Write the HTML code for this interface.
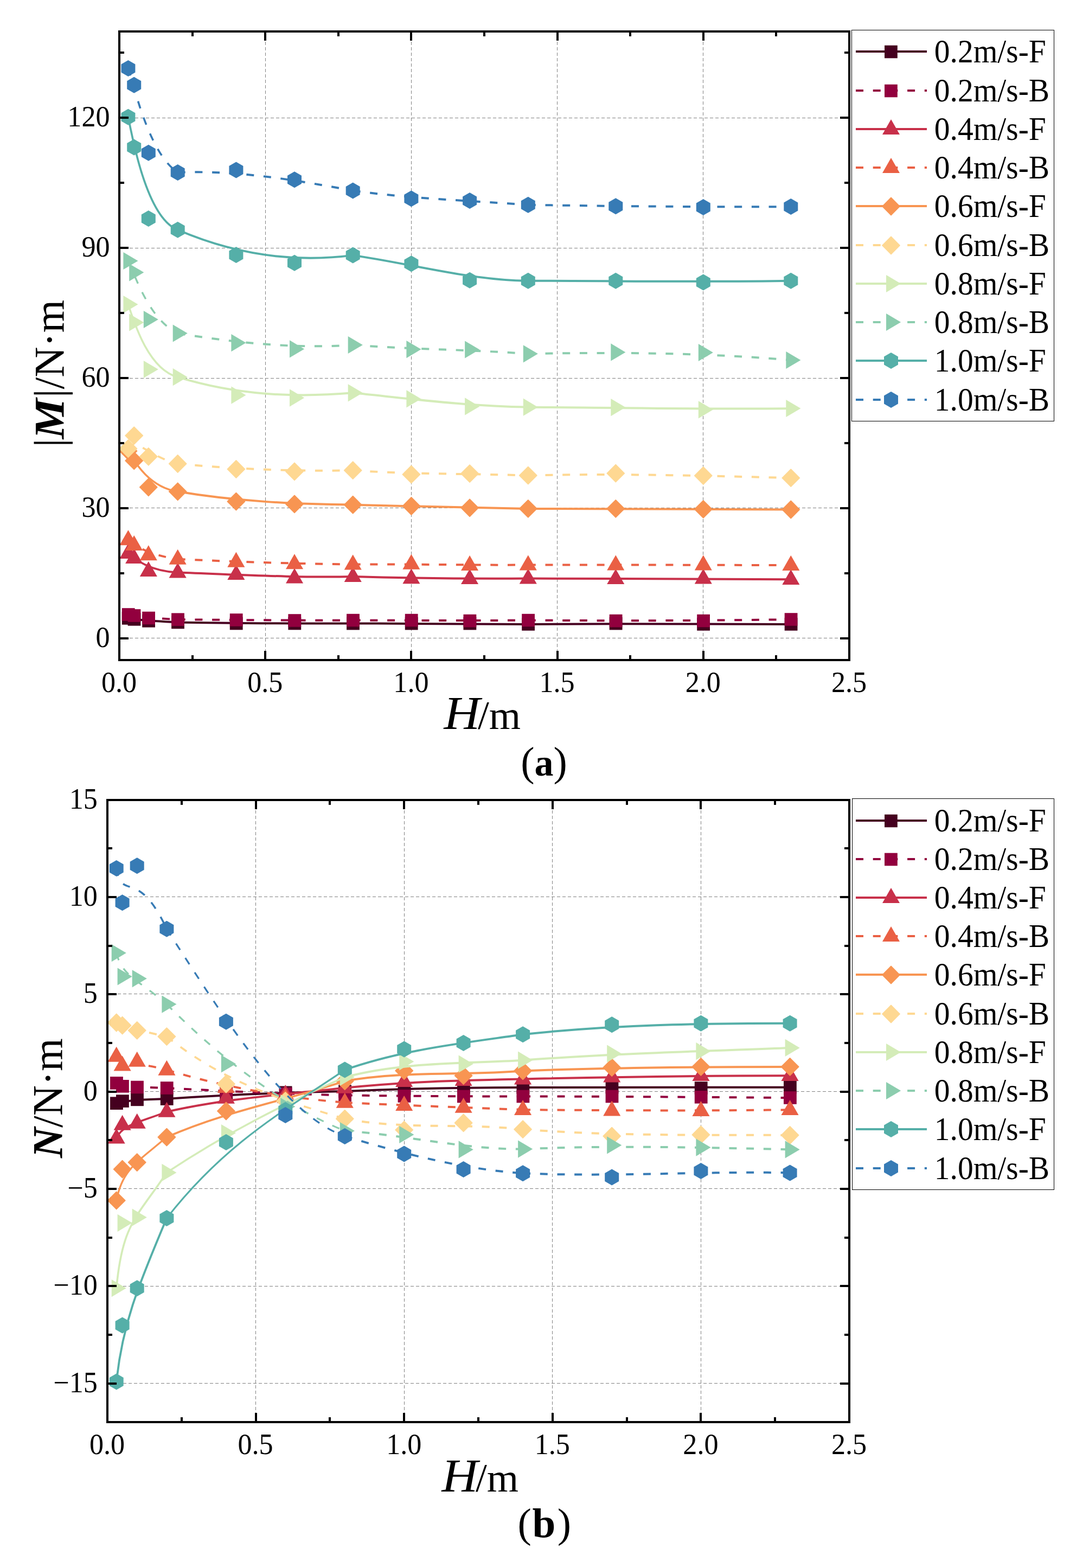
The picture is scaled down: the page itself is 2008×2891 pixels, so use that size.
<!DOCTYPE html>
<html lang="en">
<head>
<meta charset="utf-8">
<title>Figure: |M| and N versus H</title>
<style>
html,body{margin:0;padding:0;background:#fff;}
body{width:2008px;height:2891px;overflow:hidden;}
svg{display:block;}
svg text{font-family:"Liberation Serif", "DejaVu Serif", serif;}
</style>
</head>
<body>
<svg width="2008" height="2891" viewBox="0 0 2008 2891" font-family='"Liberation Serif", "DejaVu Serif", serif'>
<rect width="2008" height="2891" fill="#fff"/>
<g id="chart-a">
<g stroke="#808080" stroke-width="1" stroke-dasharray="6 4" fill="none" shape-rendering="crispEdges"><line x1="489.5" y1="57" x2="489.5" y2="1217"/><line x1="758.5" y1="57" x2="758.5" y2="1217"/><line x1="1027.5" y1="57" x2="1027.5" y2="1217"/><line x1="1296.5" y1="57" x2="1296.5" y2="1217"/><line x1="219" y1="1176.5" x2="1566" y2="1176.5"/><line x1="219" y1="936.5" x2="1566" y2="936.5"/><line x1="219" y1="697.5" x2="1566" y2="697.5"/><line x1="219" y1="457.5" x2="1566" y2="457.5"/><line x1="219" y1="217.5" x2="1566" y2="217.5"/></g>
<clipPath id="clip-chart-a"><rect x="220" y="58" width="1346" height="1159"/></clipPath>
<g clip-path="url(#clip-chart-a)">
<g fill="none" stroke="#45001F"><path d="M236.4,1139.9 C247.2,1141.9 273.8,1144.9 327.7,1147.5" stroke-width="3.98"/><path d="M327.7,1147.5 C435.4,1149.5 543,1149.5 650.7,1149.6" stroke-width="4"/><path d="M650.7,1149.6 C758.4,1149.6 866.1,1149.6 973.8,1150.9" stroke-width="4"/><path d="M973.8,1150.9 C1135.3,1149.6 1296.8,1150.9 1458.3,1150.9" stroke-width="4"/></g>
<g><rect x="224.8" y="1128.1" width="23.8" height="23.6" fill="#45001F"/><rect x="235.6" y="1130.1" width="23.8" height="23.6" fill="#45001F"/><rect x="262.2" y="1133.1" width="23.8" height="23.6" fill="#45001F"/><rect x="316.1" y="1135.7" width="23.8" height="23.6" fill="#45001F"/><rect x="423.8" y="1137.7" width="23.8" height="23.6" fill="#45001F"/><rect x="531.4" y="1137.7" width="23.8" height="23.6" fill="#45001F"/><rect x="639.1" y="1137.8" width="23.8" height="23.6" fill="#45001F"/><rect x="746.8" y="1137.8" width="23.8" height="23.6" fill="#45001F"/><rect x="854.5" y="1137.8" width="23.8" height="23.6" fill="#45001F"/><rect x="962.2" y="1139.1" width="23.8" height="23.6" fill="#45001F"/><rect x="1123.7" y="1137.8" width="23.8" height="23.6" fill="#45001F"/><rect x="1285.2" y="1139.1" width="23.8" height="23.6" fill="#45001F"/><rect x="1446.7" y="1139.1" width="23.8" height="23.6" fill="#45001F"/></g>
<g fill="none" stroke="#92003E" stroke-dasharray="14 17.7"><path d="M236.4,1133 C247.2,1135 273.8,1139.5 327.7,1142.2" stroke-width="3.98"/><path d="M327.7,1142.2 C435.4,1143 543,1144 650.7,1143.6" stroke-width="4"/><path d="M650.7,1143.6 C758.4,1143.6 866.1,1144.6 973.8,1143.6" stroke-width="4"/><path d="M973.8,1143.6 C1135.3,1144.6 1296.8,1144.6 1458.3,1142" stroke-width="4"/></g>
<g><rect x="224.8" y="1121.2" width="23.8" height="23.6" fill="#92003E"/><rect x="235.6" y="1123.2" width="23.8" height="23.6" fill="#92003E"/><rect x="262.2" y="1127.7" width="23.8" height="23.6" fill="#92003E"/><rect x="316.1" y="1130.4" width="23.8" height="23.6" fill="#92003E"/><rect x="423.8" y="1131.2" width="23.8" height="23.6" fill="#92003E"/><rect x="531.4" y="1132.2" width="23.8" height="23.6" fill="#92003E"/><rect x="639.1" y="1131.8" width="23.8" height="23.6" fill="#92003E"/><rect x="746.8" y="1131.8" width="23.8" height="23.6" fill="#92003E"/><rect x="854.5" y="1132.8" width="23.8" height="23.6" fill="#92003E"/><rect x="962.2" y="1131.8" width="23.8" height="23.6" fill="#92003E"/><rect x="1123.7" y="1132.8" width="23.8" height="23.6" fill="#92003E"/><rect x="1285.2" y="1132.8" width="23.8" height="23.6" fill="#92003E"/><rect x="1446.7" y="1130.2" width="23.8" height="23.6" fill="#92003E"/></g>
<g fill="none" stroke="#C8304A"><path d="M236.4,1020.2 C247.2,1029.2 273.8,1053.1 327.7,1055.5" stroke-width="3.65"/><path d="M327.7,1055.5 C435.4,1059.1 543,1065.5 650.7,1063" stroke-width="4"/><path d="M650.7,1063 C758.4,1066.3 866.1,1067.2 973.8,1066.6" stroke-width="4"/><path d="M973.8,1066.6 C1135.3,1067.2 1296.8,1066.6 1458.3,1068.2" stroke-width="4"/></g>
<g><polygon points="236.4,1002.1 252.5,1030.1 220.4,1030.1" fill="#C8304A"/><polygon points="247.2,1011.1 263.2,1039.1 231.1,1039.1" fill="#C8304A"/><polygon points="273.8,1035 289.9,1063 257.8,1063" fill="#C8304A"/><polygon points="327.7,1037.4 343.7,1065.4 311.6,1065.4" fill="#C8304A"/><polygon points="435.4,1041 451.4,1069 419.3,1069" fill="#C8304A"/><polygon points="543,1047.4 559.1,1075.4 527,1075.4" fill="#C8304A"/><polygon points="650.7,1044.9 666.8,1072.9 634.7,1072.9" fill="#C8304A"/><polygon points="758.4,1048.2 774.4,1076.2 742.4,1076.2" fill="#C8304A"/><polygon points="866.1,1049.1 882.1,1077.1 850,1077.1" fill="#C8304A"/><polygon points="973.8,1048.5 989.8,1076.5 957.7,1076.5" fill="#C8304A"/><polygon points="1135.3,1049.1 1151.3,1077.1 1119.2,1077.1" fill="#C8304A"/><polygon points="1296.8,1048.5 1312.8,1076.5 1280.8,1076.5" fill="#C8304A"/><polygon points="1458.3,1050.1 1474.4,1078.1 1442.3,1078.1" fill="#C8304A"/></g>
<g fill="none" stroke="#EA6044" stroke-dasharray="14 17.7"><path d="M236.4,995.3 C247.2,1005.2 273.8,1023.4 327.7,1030.8" stroke-width="3.68"/><path d="M327.7,1030.8 C435.4,1035.8 543,1039.4 650.7,1040.5" stroke-width="4"/><path d="M650.7,1040.5 C758.4,1039.9 866.1,1042.2 973.8,1041.5" stroke-width="4"/><path d="M973.8,1041.5 C1135.3,1041.5 1296.8,1041.5 1458.3,1042.2" stroke-width="4"/></g>
<g><polygon points="236.4,977.2 252.5,1005.2 220.4,1005.2" fill="#EA6044"/><polygon points="247.2,987.1 263.2,1015.1 231.1,1015.1" fill="#EA6044"/><polygon points="273.8,1005.3 289.9,1033.3 257.8,1033.3" fill="#EA6044"/><polygon points="327.7,1012.7 343.7,1040.7 311.6,1040.7" fill="#EA6044"/><polygon points="435.4,1017.7 451.4,1045.7 419.3,1045.7" fill="#EA6044"/><polygon points="543,1021.3 559.1,1049.3 527,1049.3" fill="#EA6044"/><polygon points="650.7,1022.4 666.8,1050.4 634.7,1050.4" fill="#EA6044"/><polygon points="758.4,1021.8 774.4,1049.8 742.4,1049.8" fill="#EA6044"/><polygon points="866.1,1024.1 882.1,1052.1 850,1052.1" fill="#EA6044"/><polygon points="973.8,1023.4 989.8,1051.4 957.7,1051.4" fill="#EA6044"/><polygon points="1135.3,1023.4 1151.3,1051.4 1119.2,1051.4" fill="#EA6044"/><polygon points="1296.8,1023.4 1312.8,1051.4 1280.8,1051.4" fill="#EA6044"/><polygon points="1458.3,1024.1 1474.4,1052.1 1442.3,1052.1" fill="#EA6044"/></g>
<g fill="none" stroke="#F89552"><path d="M236.4,831.6 C247.2,849.4 273.8,898.3 327.7,906.3" stroke-width="3.36"/><path d="M327.7,906.3 C435.4,924.6 543,929.4 650.7,930.7" stroke-width="3.98"/><path d="M650.7,930.7 C758.4,933 866.1,936.3 973.8,937.9" stroke-width="4"/><path d="M973.8,937.9 C1135.3,937.9 1296.8,938.9 1458.3,939.5" stroke-width="4"/></g>
<g><polygon points="236.4,815.5 252.5,831.6 236.4,847.7 220.3,831.6" fill="#F89552" stroke="#F89552" stroke-width="1.6" stroke-linejoin="round"/><polygon points="247.2,833.3 263.3,849.4 247.2,865.5 231.1,849.4" fill="#F89552" stroke="#F89552" stroke-width="1.6" stroke-linejoin="round"/><polygon points="273.8,882.2 289.9,898.3 273.8,914.4 257.7,898.3" fill="#F89552" stroke="#F89552" stroke-width="1.6" stroke-linejoin="round"/><polygon points="327.7,890.2 343.8,906.3 327.7,922.4 311.6,906.3" fill="#F89552" stroke="#F89552" stroke-width="1.6" stroke-linejoin="round"/><polygon points="435.4,908.5 451.5,924.6 435.4,940.7 419.3,924.6" fill="#F89552" stroke="#F89552" stroke-width="1.6" stroke-linejoin="round"/><polygon points="543,913.3 559.1,929.4 543,945.5 526.9,929.4" fill="#F89552" stroke="#F89552" stroke-width="1.6" stroke-linejoin="round"/><polygon points="650.7,914.6 666.8,930.7 650.7,946.8 634.6,930.7" fill="#F89552" stroke="#F89552" stroke-width="1.6" stroke-linejoin="round"/><polygon points="758.4,916.9 774.5,933 758.4,949.1 742.3,933" fill="#F89552" stroke="#F89552" stroke-width="1.6" stroke-linejoin="round"/><polygon points="866.1,920.2 882.2,936.3 866.1,952.4 850,936.3" fill="#F89552" stroke="#F89552" stroke-width="1.6" stroke-linejoin="round"/><polygon points="973.8,921.8 989.9,937.9 973.8,954 957.7,937.9" fill="#F89552" stroke="#F89552" stroke-width="1.6" stroke-linejoin="round"/><polygon points="1135.3,921.8 1151.4,937.9 1135.3,954 1119.2,937.9" fill="#F89552" stroke="#F89552" stroke-width="1.6" stroke-linejoin="round"/><polygon points="1296.8,922.8 1312.9,938.9 1296.8,955 1280.7,938.9" fill="#F89552" stroke="#F89552" stroke-width="1.6" stroke-linejoin="round"/><polygon points="1458.3,923.4 1474.4,939.5 1458.3,955.6 1442.2,939.5" fill="#F89552" stroke="#F89552" stroke-width="1.6" stroke-linejoin="round"/></g>
<g fill="none" stroke="#FED892" stroke-dasharray="14 17.7"><path d="M236.4,827.2 C247.2,803.1 273.8,841.9 327.7,855" stroke-width="3.62"/><path d="M327.7,855 C435.4,865 543,869.4 650.7,867.2" stroke-width="4"/><path d="M650.7,867.2 C758.4,874.7 866.1,873.1 973.8,876.6" stroke-width="4"/><path d="M973.8,876.6 C1135.3,872.7 1296.8,877 1458.3,881.2" stroke-width="4"/></g>
<g><polygon points="236.4,811.1 252.5,827.2 236.4,843.3 220.3,827.2" fill="#FED892" stroke="#FED892" stroke-width="1.6" stroke-linejoin="round"/><polygon points="247.2,787 263.3,803.1 247.2,819.2 231.1,803.1" fill="#FED892" stroke="#FED892" stroke-width="1.6" stroke-linejoin="round"/><polygon points="273.8,825.8 289.9,841.9 273.8,858 257.7,841.9" fill="#FED892" stroke="#FED892" stroke-width="1.6" stroke-linejoin="round"/><polygon points="327.7,838.9 343.8,855 327.7,871.1 311.6,855" fill="#FED892" stroke="#FED892" stroke-width="1.6" stroke-linejoin="round"/><polygon points="435.4,848.9 451.5,865 435.4,881.1 419.3,865" fill="#FED892" stroke="#FED892" stroke-width="1.6" stroke-linejoin="round"/><polygon points="543,853.3 559.1,869.4 543,885.5 526.9,869.4" fill="#FED892" stroke="#FED892" stroke-width="1.6" stroke-linejoin="round"/><polygon points="650.7,851.1 666.8,867.2 650.7,883.3 634.6,867.2" fill="#FED892" stroke="#FED892" stroke-width="1.6" stroke-linejoin="round"/><polygon points="758.4,858.6 774.5,874.7 758.4,890.8 742.3,874.7" fill="#FED892" stroke="#FED892" stroke-width="1.6" stroke-linejoin="round"/><polygon points="866.1,857 882.2,873.1 866.1,889.2 850,873.1" fill="#FED892" stroke="#FED892" stroke-width="1.6" stroke-linejoin="round"/><polygon points="973.8,860.5 989.9,876.6 973.8,892.7 957.7,876.6" fill="#FED892" stroke="#FED892" stroke-width="1.6" stroke-linejoin="round"/><polygon points="1135.3,856.6 1151.4,872.7 1135.3,888.8 1119.2,872.7" fill="#FED892" stroke="#FED892" stroke-width="1.6" stroke-linejoin="round"/><polygon points="1296.8,860.9 1312.9,877 1296.8,893.1 1280.7,877" fill="#FED892" stroke="#FED892" stroke-width="1.6" stroke-linejoin="round"/><polygon points="1458.3,865.1 1474.4,881.2 1458.3,897.3 1442.2,881.2" fill="#FED892" stroke="#FED892" stroke-width="1.6" stroke-linejoin="round"/></g>
<g fill="none" stroke="#D4ECB8"><path d="M236.4,561.2 C247.2,594.5 273.8,681 327.7,695.2" stroke-width="3.5"/><path d="M327.7,695.2 C435.4,728.6 543,733.6 650.7,724.3" stroke-width="3.96"/><path d="M650.7,724.3 C758.4,735.4 866.1,749.4 973.8,750.7" stroke-width="3.99"/><path d="M973.8,750.7 C1135.3,751.1 1296.8,755.3 1458.3,753" stroke-width="4"/></g>
<g><polygon points="254.5,561.2 227.4,577.3 227.4,545.1" fill="#D4ECB8"/><polygon points="265.3,594.5 238.2,610.6 238.2,578.4" fill="#D4ECB8"/><polygon points="291.9,681 264.8,697.1 264.8,664.9" fill="#D4ECB8"/><polygon points="345.8,695.2 318.7,711.3 318.7,679.1" fill="#D4ECB8"/><polygon points="453.5,728.6 426.4,744.7 426.4,712.5" fill="#D4ECB8"/><polygon points="561.1,733.6 534,749.7 534,717.5" fill="#D4ECB8"/><polygon points="668.8,724.3 641.7,740.4 641.7,708.2" fill="#D4ECB8"/><polygon points="776.5,735.4 749.4,751.5 749.4,719.3" fill="#D4ECB8"/><polygon points="884.2,749.4 857.1,765.5 857.1,733.3" fill="#D4ECB8"/><polygon points="991.9,750.7 964.8,766.8 964.8,734.6" fill="#D4ECB8"/><polygon points="1153.4,751.1 1126.3,767.2 1126.3,735" fill="#D4ECB8"/><polygon points="1314.9,755.3 1287.8,771.4 1287.8,739.2" fill="#D4ECB8"/><polygon points="1476.4,753 1449.3,769.1 1449.3,736.9" fill="#D4ECB8"/></g>
<g fill="none" stroke="#8CCDAE" stroke-dasharray="14 17.7"><path d="M236.4,481 C247.2,502.3 273.8,589 327.7,614.5" stroke-width="3.41"/><path d="M327.7,614.5 C435.4,632.1 543,643.4 650.7,636" stroke-width="3.98"/><path d="M650.7,636 C758.4,644.1 866.1,644.5 973.8,652.3" stroke-width="3.99"/><path d="M973.8,652.3 C1135.3,649.4 1296.8,650 1458.3,664" stroke-width="4"/></g>
<g><polygon points="254.5,481 227.4,497.1 227.4,464.9" fill="#8CCDAE"/><polygon points="265.3,502.3 238.2,518.4 238.2,486.2" fill="#8CCDAE"/><polygon points="291.9,589 264.8,605.1 264.8,572.9" fill="#8CCDAE"/><polygon points="345.8,614.5 318.7,630.6 318.7,598.4" fill="#8CCDAE"/><polygon points="453.5,632.1 426.4,648.2 426.4,616" fill="#8CCDAE"/><polygon points="561.1,643.4 534,659.5 534,627.3" fill="#8CCDAE"/><polygon points="668.8,636 641.7,652.1 641.7,619.9" fill="#8CCDAE"/><polygon points="776.5,644.1 749.4,660.2 749.4,628" fill="#8CCDAE"/><polygon points="884.2,644.5 857.1,660.6 857.1,628.4" fill="#8CCDAE"/><polygon points="991.9,652.3 964.8,668.4 964.8,636.2" fill="#8CCDAE"/><polygon points="1153.4,649.4 1126.3,665.5 1126.3,633.3" fill="#8CCDAE"/><polygon points="1314.9,650 1287.8,666.1 1287.8,633.9" fill="#8CCDAE"/><polygon points="1476.4,664 1449.3,680.1 1449.3,647.9" fill="#8CCDAE"/></g>
<g fill="none" stroke="#55AFA8"><path d="M236.4,215.7 C247.2,271.6 273.8,403 327.7,423.8" stroke-width="3.67"/><path d="M327.7,423.8 C435.4,470.1 543,484.7 650.7,470.6" stroke-width="3.91"/><path d="M650.7,470.6 C758.4,486.2 866.1,516.8 973.8,517.8" stroke-width="3.95"/><path d="M973.8,517.8 C1135.3,517.8 1296.8,520.4 1458.3,517.8" stroke-width="4"/></g>
<g><polygon points="236.4,200.7 249.4,208.2 249.4,223.2 236.4,230.7 223.4,223.2 223.4,208.2" fill="#55AFA8"/><polygon points="247.2,256.6 260.2,264.1 260.2,279.1 247.2,286.6 234.2,279.1 234.2,264.1" fill="#55AFA8"/><polygon points="273.8,388 286.8,395.5 286.8,410.5 273.8,418 260.8,410.5 260.8,395.5" fill="#55AFA8"/><polygon points="327.7,408.8 340.7,416.3 340.7,431.3 327.7,438.8 314.7,431.3 314.7,416.3" fill="#55AFA8"/><polygon points="435.4,455.1 448.4,462.6 448.4,477.6 435.4,485.1 422.4,477.6 422.4,462.6" fill="#55AFA8"/><polygon points="543,469.7 556,477.2 556,492.2 543,499.7 530,492.2 530,477.2" fill="#55AFA8"/><polygon points="650.7,455.6 663.7,463.1 663.7,478.1 650.7,485.6 637.7,478.1 637.7,463.1" fill="#55AFA8"/><polygon points="758.4,471.2 771.4,478.7 771.4,493.7 758.4,501.2 745.4,493.7 745.4,478.7" fill="#55AFA8"/><polygon points="866.1,501.8 879.1,509.3 879.1,524.3 866.1,531.8 853.1,524.3 853.1,509.3" fill="#55AFA8"/><polygon points="973.8,502.8 986.8,510.3 986.8,525.3 973.8,532.8 960.8,525.3 960.8,510.3" fill="#55AFA8"/><polygon points="1135.3,502.8 1148.3,510.3 1148.3,525.3 1135.3,532.8 1122.3,525.3 1122.3,510.3" fill="#55AFA8"/><polygon points="1296.8,505.4 1309.8,512.9 1309.8,527.9 1296.8,535.4 1283.8,527.9 1283.8,512.9" fill="#55AFA8"/><polygon points="1458.3,502.8 1471.3,510.3 1471.3,525.3 1458.3,532.8 1445.3,525.3 1445.3,510.3" fill="#55AFA8"/></g>
<g fill="none" stroke="#377BB5" stroke-dasharray="14 17.7"><path d="M236.4,126 C247.2,156.8 273.8,281.7 327.7,318" stroke-width="3.59"/><path d="M327.7,318 C435.4,313.5 543,331.3 650.7,351.6" stroke-width="3.97"/><path d="M650.7,351.6 C758.4,366.3 866.1,369.9 973.8,377.7" stroke-width="3.99"/><path d="M973.8,377.7 C1135.3,380.3 1296.8,381.9 1458.3,381" stroke-width="4"/></g>
<g><polygon points="236.4,111 249.4,118.5 249.4,133.5 236.4,141 223.4,133.5 223.4,118.5" fill="#377BB5"/><polygon points="247.2,141.8 260.2,149.3 260.2,164.3 247.2,171.8 234.2,164.3 234.2,149.3" fill="#377BB5"/><polygon points="273.8,266.7 286.8,274.2 286.8,289.2 273.8,296.7 260.8,289.2 260.8,274.2" fill="#377BB5"/><polygon points="327.7,303 340.7,310.5 340.7,325.5 327.7,333 314.7,325.5 314.7,310.5" fill="#377BB5"/><polygon points="435.4,298.5 448.4,306 448.4,321 435.4,328.5 422.4,321 422.4,306" fill="#377BB5"/><polygon points="543,316.3 556,323.8 556,338.8 543,346.3 530,338.8 530,323.8" fill="#377BB5"/><polygon points="650.7,336.6 663.7,344.1 663.7,359.1 650.7,366.6 637.7,359.1 637.7,344.1" fill="#377BB5"/><polygon points="758.4,351.3 771.4,358.8 771.4,373.8 758.4,381.3 745.4,373.8 745.4,358.8" fill="#377BB5"/><polygon points="866.1,354.9 879.1,362.4 879.1,377.4 866.1,384.9 853.1,377.4 853.1,362.4" fill="#377BB5"/><polygon points="973.8,362.7 986.8,370.2 986.8,385.2 973.8,392.7 960.8,385.2 960.8,370.2" fill="#377BB5"/><polygon points="1135.3,365.3 1148.3,372.8 1148.3,387.8 1135.3,395.3 1122.3,387.8 1122.3,372.8" fill="#377BB5"/><polygon points="1296.8,366.9 1309.8,374.4 1309.8,389.4 1296.8,396.9 1283.8,389.4 1283.8,374.4" fill="#377BB5"/><polygon points="1458.3,366 1471.3,373.5 1471.3,388.5 1458.3,396 1445.3,388.5 1445.3,373.5" fill="#377BB5"/></g>
</g>
<g stroke="#000" stroke-width="4" fill="none" shape-rendering="crispEdges"><line x1="355" y1="1217" x2="355" y2="1208"/><line x1="355" y1="58" x2="355" y2="67"/><line x1="489" y1="1217" x2="489" y2="1200"/><line x1="489" y1="58" x2="489" y2="75"/><line x1="624" y1="1217" x2="624" y2="1208"/><line x1="624" y1="58" x2="624" y2="67"/><line x1="758" y1="1217" x2="758" y2="1200"/><line x1="758" y1="58" x2="758" y2="75"/><line x1="893" y1="1217" x2="893" y2="1208"/><line x1="893" y1="58" x2="893" y2="67"/><line x1="1028" y1="1217" x2="1028" y2="1200"/><line x1="1028" y1="58" x2="1028" y2="75"/><line x1="1162" y1="1217" x2="1162" y2="1208"/><line x1="1162" y1="58" x2="1162" y2="67"/><line x1="1297" y1="1217" x2="1297" y2="1200"/><line x1="1297" y1="58" x2="1297" y2="75"/><line x1="1431" y1="1217" x2="1431" y2="1208"/><line x1="1431" y1="58" x2="1431" y2="67"/><line x1="220" y1="1177" x2="237" y2="1177"/><line x1="1566" y1="1177" x2="1549" y2="1177"/><line x1="220" y1="937" x2="237" y2="937"/><line x1="1566" y1="937" x2="1549" y2="937"/><line x1="220" y1="697" x2="237" y2="697"/><line x1="1566" y1="697" x2="1549" y2="697"/><line x1="220" y1="457" x2="237" y2="457"/><line x1="1566" y1="457" x2="1549" y2="457"/><line x1="220" y1="217" x2="237" y2="217"/><line x1="1566" y1="217" x2="1549" y2="217"/><line x1="220" y1="1057" x2="229" y2="1057"/><line x1="1566" y1="1057" x2="1557" y2="1057"/><line x1="220" y1="817" x2="229" y2="817"/><line x1="1566" y1="817" x2="1557" y2="817"/><line x1="220" y1="577" x2="229" y2="577"/><line x1="1566" y1="577" x2="1557" y2="577"/><line x1="220" y1="337" x2="229" y2="337"/><line x1="1566" y1="337" x2="1557" y2="337"/><line x1="220" y1="97" x2="229" y2="97"/><line x1="1566" y1="97" x2="1557" y2="97"/><rect x="220" y="58" width="1346" height="1159"/></g>
<g font-size="54" fill="#000"><text transform="translate(219.5,1276.2) scale(0.965,1)" text-anchor="middle">0.0</text><text transform="translate(488.7,1276.2) scale(0.965,1)" text-anchor="middle">0.5</text><text transform="translate(757.9,1276.2) scale(0.965,1)" text-anchor="middle">1.0</text><text transform="translate(1027.1,1276.2) scale(0.965,1)" text-anchor="middle">1.5</text><text transform="translate(1296.3,1276.2) scale(0.965,1)" text-anchor="middle">2.0</text><text transform="translate(1565.5,1276.2) scale(0.965,1)" text-anchor="middle">2.5</text><text transform="translate(202.5,1193.4) scale(0.965,1)" text-anchor="end">0</text><text transform="translate(202.5,953.4) scale(0.965,1)" text-anchor="end">30</text><text transform="translate(202.5,713.4) scale(0.965,1)" text-anchor="end">60</text><text transform="translate(202.5,473.4) scale(0.965,1)" text-anchor="end">90</text><text transform="translate(202.5,233.4) scale(0.965,1)" text-anchor="end">120</text></g>
<g font-size="75"><text transform="translate(818.5,1343.8) scale(1.075,1)" font-size="86" font-style="italic">H</text><text x="880.9" y="1343.8">/m</text></g>
<g transform="translate(116.8,820) rotate(-90)" font-size="78"><text x="-4.3" y="0">|</text><text transform="translate(10.5,0) scale(1.08,1)" font-weight="bold" font-style="italic">M</text><text x="86.9" y="0">|/N·m</text></g>
<rect x="1570.5" y="55.5" width="373" height="721" fill="#fff" stroke="#000" stroke-width="1" shape-rendering="crispEdges"/>
<line x1="1578" y1="95" x2="1709" y2="95" stroke="#45001F" stroke-width="4"/>
<rect x="1631" y="83.7" width="23.8" height="23.6" fill="#45001F"/>
<text transform="translate(1722.8,114.8) scale(0.935,1)" font-size="61.5">0.2m/s-F</text>
<line x1="1578" y1="167" x2="1709" y2="167" stroke="#92003E" stroke-width="4" stroke-dasharray="14 17.7"/>
<rect x="1631" y="155.7" width="23.8" height="23.6" fill="#92003E"/>
<text transform="translate(1722.8,186.8) scale(0.935,1)" font-size="61.5">0.2m/s-B</text>
<line x1="1578" y1="238" x2="1709" y2="238" stroke="#C8304A" stroke-width="4"/>
<polygon points="1643,219.9 1659,247.9 1627,247.9" fill="#C8304A"/>
<text transform="translate(1722.8,257.8) scale(0.935,1)" font-size="61.5">0.4m/s-F</text>
<line x1="1578" y1="309" x2="1709" y2="309" stroke="#EA6044" stroke-width="4" stroke-dasharray="14 17.7"/>
<polygon points="1643,290.9 1659,318.9 1627,318.9" fill="#EA6044"/>
<text transform="translate(1722.8,328.8) scale(0.935,1)" font-size="61.5">0.4m/s-B</text>
<line x1="1578" y1="380" x2="1709" y2="380" stroke="#F89552" stroke-width="4"/>
<polygon points="1643,364.4 1659.1,380.5 1643,396.6 1626.9,380.5" fill="#F89552" stroke="#F89552" stroke-width="1.6" stroke-linejoin="round"/>
<text transform="translate(1722.8,399.8) scale(0.935,1)" font-size="61.5">0.6m/s-F</text>
<line x1="1578" y1="452" x2="1709" y2="452" stroke="#FED892" stroke-width="4" stroke-dasharray="14 17.7"/>
<polygon points="1643,436.4 1659.1,452.5 1643,468.6 1626.9,452.5" fill="#FED892" stroke="#FED892" stroke-width="1.6" stroke-linejoin="round"/>
<text transform="translate(1722.8,471.8) scale(0.935,1)" font-size="61.5">0.6m/s-B</text>
<line x1="1578" y1="523" x2="1709" y2="523" stroke="#D4ECB8" stroke-width="4"/>
<polygon points="1661.1,523 1634,539.1 1634,506.9" fill="#D4ECB8"/>
<text transform="translate(1722.8,542.8) scale(0.935,1)" font-size="61.5">0.8m/s-F</text>
<line x1="1578" y1="594" x2="1709" y2="594" stroke="#8CCDAE" stroke-width="4" stroke-dasharray="14 17.7"/>
<polygon points="1661.1,594 1634,610.1 1634,577.9" fill="#8CCDAE"/>
<text transform="translate(1722.8,613.8) scale(0.935,1)" font-size="61.5">0.8m/s-B</text>
<line x1="1578" y1="665" x2="1709" y2="665" stroke="#55AFA8" stroke-width="4"/>
<polygon points="1643,650 1656,657.5 1656,672.5 1643,680 1630,672.5 1630,657.5" fill="#55AFA8"/>
<text transform="translate(1722.8,684.8) scale(0.935,1)" font-size="61.5">1.0m/s-F</text>
<line x1="1578" y1="737" x2="1709" y2="737" stroke="#377BB5" stroke-width="4" stroke-dasharray="14 17.7"/>
<polygon points="1643,722 1656,729.5 1656,744.5 1643,752 1630,744.5 1630,729.5" fill="#377BB5"/>
<text transform="translate(1722.8,756.8) scale(0.935,1)" font-size="61.5">1.0m/s-B</text>
</g>
<text x="1003" y="1430" font-size="76" text-anchor="middle">(<tspan font-weight="bold" font-size="70">a</tspan>)</text>
<g id="chart-b">
<g stroke="#808080" stroke-width="1" stroke-dasharray="6 4" fill="none" shape-rendering="crispEdges"><line x1="471.5" y1="1474" x2="471.5" y2="2622"/><line x1="745.5" y1="1474" x2="745.5" y2="2622"/><line x1="1018.5" y1="1474" x2="1018.5" y2="2622"/><line x1="1292.5" y1="1474" x2="1292.5" y2="2622"/><line x1="197" y1="2550.5" x2="1566" y2="2550.5"/><line x1="197" y1="2371.5" x2="1566" y2="2371.5"/><line x1="197" y1="2191.5" x2="1566" y2="2191.5"/><line x1="197" y1="2012.5" x2="1566" y2="2012.5"/><line x1="197" y1="1832.5" x2="1566" y2="1832.5"/><line x1="197" y1="1653.5" x2="1566" y2="1653.5"/></g>
<clipPath id="clip-chart-b"><rect x="198" y="1475" width="1368" height="1147"/></clipPath>
<g clip-path="url(#clip-chart-b)">
<g fill="none" stroke="#45001F"><path d="M214.7,2034.2 C225.6,2030.1 252.7,2027.4 307.4,2026.1" stroke-width="3.97"/><path d="M307.4,2026.1 C416.9,2018.5 526.3,2014.3 635.8,2012.1" stroke-width="4"/><path d="M635.8,2012.1 C745.2,2007 854.6,2005 964.1,2005" stroke-width="4"/><path d="M964.1,2005 C1128.2,2004.5 1292.4,2006 1456.6,2004.7" stroke-width="4"/></g>
<g><rect x="203.1" y="2022.4" width="23.8" height="23.6" fill="#45001F"/><rect x="214" y="2018.3" width="23.8" height="23.6" fill="#45001F"/><rect x="241.1" y="2015.6" width="23.8" height="23.6" fill="#45001F"/><rect x="295.8" y="2014.3" width="23.8" height="23.6" fill="#45001F"/><rect x="405.3" y="2006.7" width="23.8" height="23.6" fill="#45001F"/><rect x="514.7" y="2002.5" width="23.8" height="23.6" fill="#45001F"/><rect x="624.2" y="2000.3" width="23.8" height="23.6" fill="#45001F"/><rect x="733.6" y="1995.2" width="23.8" height="23.6" fill="#45001F"/><rect x="843" y="1993.2" width="23.8" height="23.6" fill="#45001F"/><rect x="952.5" y="1993.2" width="23.8" height="23.6" fill="#45001F"/><rect x="1116.6" y="1992.7" width="23.8" height="23.6" fill="#45001F"/><rect x="1280.8" y="1994.2" width="23.8" height="23.6" fill="#45001F"/><rect x="1445" y="1992.9" width="23.8" height="23.6" fill="#45001F"/></g>
<g fill="none" stroke="#92003E" stroke-dasharray="14 17.7"><path d="M214.7,1996.9 C225.6,2002.8 252.7,2004.5 307.4,2006" stroke-width="3.96"/><path d="M307.4,2006 C416.9,2012.1 526.3,2016.8 635.8,2019.4" stroke-width="4"/><path d="M635.8,2019.4 C745.2,2020.9 854.6,2021.5 964.1,2021.5" stroke-width="4"/><path d="M964.1,2021.5 C1128.2,2021.5 1292.4,2022.8 1456.6,2024" stroke-width="4"/></g>
<g><rect x="203.1" y="1985.1" width="23.8" height="23.6" fill="#92003E"/><rect x="214" y="1991" width="23.8" height="23.6" fill="#92003E"/><rect x="241.1" y="1992.7" width="23.8" height="23.6" fill="#92003E"/><rect x="295.8" y="1994.2" width="23.8" height="23.6" fill="#92003E"/><rect x="405.3" y="2000.3" width="23.8" height="23.6" fill="#92003E"/><rect x="514.7" y="2005" width="23.8" height="23.6" fill="#92003E"/><rect x="624.2" y="2007.6" width="23.8" height="23.6" fill="#92003E"/><rect x="733.6" y="2009.1" width="23.8" height="23.6" fill="#92003E"/><rect x="843" y="2009.7" width="23.8" height="23.6" fill="#92003E"/><rect x="952.5" y="2009.7" width="23.8" height="23.6" fill="#92003E"/><rect x="1116.6" y="2009.7" width="23.8" height="23.6" fill="#92003E"/><rect x="1280.8" y="2011" width="23.8" height="23.6" fill="#92003E"/><rect x="1445" y="2012.2" width="23.8" height="23.6" fill="#92003E"/></g>
<g fill="none" stroke="#C8304A"><path d="M214.7,2098.7 C225.6,2073.8 252.7,2070.8 307.4,2049.9" stroke-width="3.6"/><path d="M307.4,2049.9 C416.9,2024.8 526.3,2018.1 635.8,2005.8" stroke-width="3.96"/><path d="M635.8,2005.8 C745.2,1994.1 854.6,1992 964.1,1989.5" stroke-width="3.99"/><path d="M964.1,1989.5 C1128.2,1985.7 1292.4,1983.2 1456.6,1983.2" stroke-width="4"/></g>
<g><polygon points="214.7,2080.6 230.7,2108.6 198.6,2108.6" fill="#C8304A"/><polygon points="225.6,2055.7 241.7,2083.7 209.6,2083.7" fill="#C8304A"/><polygon points="252.7,2052.7 268.8,2080.7 236.7,2080.7" fill="#C8304A"/><polygon points="307.4,2031.8 323.5,2059.8 291.4,2059.8" fill="#C8304A"/><polygon points="416.9,2006.7 432.9,2034.7 400.8,2034.7" fill="#C8304A"/><polygon points="526.3,2000 542.4,2028 510.3,2028" fill="#C8304A"/><polygon points="635.8,1987.7 651.8,2015.7 619.7,2015.7" fill="#C8304A"/><polygon points="745.2,1976 761.2,2004 729.2,2004" fill="#C8304A"/><polygon points="854.6,1973.9 870.7,2001.9 838.6,2001.9" fill="#C8304A"/><polygon points="964.1,1971.4 980.1,1999.4 948,1999.4" fill="#C8304A"/><polygon points="1128.2,1967.6 1144.3,1995.6 1112.2,1995.6" fill="#C8304A"/><polygon points="1292.4,1965.1 1308.5,1993.1 1276.4,1993.1" fill="#C8304A"/><polygon points="1456.6,1965.1 1472.6,1993.1 1440.5,1993.1" fill="#C8304A"/></g>
<g fill="none" stroke="#EA6044" stroke-dasharray="14 17.7"><path d="M214.7,1947.8 C225.6,1964.7 252.7,1956.9 307.4,1972.8" stroke-width="3.82"/><path d="M307.4,1972.8 C416.9,2005.1 526.3,2023.9 635.8,2032.8" stroke-width="3.93"/><path d="M635.8,2032.8 C745.2,2038 854.6,2041.9 964.1,2046" stroke-width="4"/><path d="M964.1,2046 C1128.2,2047.5 1292.4,2048.1 1456.6,2046.2" stroke-width="4"/></g>
<g><polygon points="214.7,1929.7 230.7,1957.7 198.6,1957.7" fill="#EA6044"/><polygon points="225.6,1946.6 241.7,1974.6 209.6,1974.6" fill="#EA6044"/><polygon points="252.7,1938.8 268.8,1966.8 236.7,1966.8" fill="#EA6044"/><polygon points="307.4,1954.7 323.5,1982.7 291.4,1982.7" fill="#EA6044"/><polygon points="416.9,1987 432.9,2015 400.8,2015" fill="#EA6044"/><polygon points="526.3,2005.8 542.4,2033.8 510.3,2033.8" fill="#EA6044"/><polygon points="635.8,2014.7 651.8,2042.7 619.7,2042.7" fill="#EA6044"/><polygon points="745.2,2019.9 761.2,2047.9 729.2,2047.9" fill="#EA6044"/><polygon points="854.6,2023.8 870.7,2051.8 838.6,2051.8" fill="#EA6044"/><polygon points="964.1,2027.9 980.1,2055.9 948,2055.9" fill="#EA6044"/><polygon points="1128.2,2029.4 1144.3,2057.4 1112.2,2057.4" fill="#EA6044"/><polygon points="1292.4,2030 1308.5,2058 1276.4,2058" fill="#EA6044"/><polygon points="1456.6,2028.1 1472.6,2056.1 1440.5,2056.1" fill="#EA6044"/></g>
<g fill="none" stroke="#F89552"><path d="M214.7,2213.4 C225.6,2155.7 252.7,2143.1 307.4,2096.6" stroke-width="3.27"/><path d="M307.4,2096.6 C416.9,2048.5 526.3,2029.5 635.8,1993.2" stroke-width="3.81"/><path d="M635.8,1993.2 C745.2,1974.1 854.6,1983.2 964.1,1974.4" stroke-width="3.99"/><path d="M964.1,1974.4 C1128.2,1968.2 1292.4,1966.9 1456.6,1966.9" stroke-width="4"/></g>
<g><polygon points="214.7,2197.3 230.8,2213.4 214.7,2229.5 198.6,2213.4" fill="#F89552" stroke="#F89552" stroke-width="1.6" stroke-linejoin="round"/><polygon points="225.6,2139.6 241.7,2155.7 225.6,2171.8 209.5,2155.7" fill="#F89552" stroke="#F89552" stroke-width="1.6" stroke-linejoin="round"/><polygon points="252.7,2127 268.8,2143.1 252.7,2159.2 236.6,2143.1" fill="#F89552" stroke="#F89552" stroke-width="1.6" stroke-linejoin="round"/><polygon points="307.4,2080.5 323.5,2096.6 307.4,2112.7 291.3,2096.6" fill="#F89552" stroke="#F89552" stroke-width="1.6" stroke-linejoin="round"/><polygon points="416.9,2032.4 433,2048.5 416.9,2064.6 400.8,2048.5" fill="#F89552" stroke="#F89552" stroke-width="1.6" stroke-linejoin="round"/><polygon points="526.3,2013.4 542.4,2029.5 526.3,2045.6 510.2,2029.5" fill="#F89552" stroke="#F89552" stroke-width="1.6" stroke-linejoin="round"/><polygon points="635.8,1977.1 651.9,1993.2 635.8,2009.3 619.7,1993.2" fill="#F89552" stroke="#F89552" stroke-width="1.6" stroke-linejoin="round"/><polygon points="745.2,1958 761.3,1974.1 745.2,1990.2 729.1,1974.1" fill="#F89552" stroke="#F89552" stroke-width="1.6" stroke-linejoin="round"/><polygon points="854.6,1967.1 870.7,1983.2 854.6,1999.3 838.5,1983.2" fill="#F89552" stroke="#F89552" stroke-width="1.6" stroke-linejoin="round"/><polygon points="964.1,1958.3 980.2,1974.4 964.1,1990.5 948,1974.4" fill="#F89552" stroke="#F89552" stroke-width="1.6" stroke-linejoin="round"/><polygon points="1128.2,1952.1 1144.3,1968.2 1128.2,1984.3 1112.1,1968.2" fill="#F89552" stroke="#F89552" stroke-width="1.6" stroke-linejoin="round"/><polygon points="1292.4,1950.8 1308.5,1966.9 1292.4,1983 1276.3,1966.9" fill="#F89552" stroke="#F89552" stroke-width="1.6" stroke-linejoin="round"/><polygon points="1456.6,1950.8 1472.7,1966.9 1456.6,1983 1440.5,1966.9" fill="#F89552" stroke="#F89552" stroke-width="1.6" stroke-linejoin="round"/></g>
<g fill="none" stroke="#FED892" stroke-dasharray="14 17.7"><path d="M214.7,1885.5 C225.6,1890.7 252.7,1899.9 307.4,1911.1" stroke-width="3.85"/><path d="M307.4,1911.1 C416.9,1998.6 526.3,2030.1 635.8,2062.7" stroke-width="3.61"/><path d="M635.8,2062.7 C745.2,2083.3 854.6,2070.4 964.1,2082.2" stroke-width="3.99"/><path d="M964.1,2082.2 C1128.2,2094.7 1292.4,2092.2 1456.6,2093" stroke-width="4"/></g>
<g><polygon points="214.7,1869.4 230.8,1885.5 214.7,1901.6 198.6,1885.5" fill="#FED892" stroke="#FED892" stroke-width="1.6" stroke-linejoin="round"/><polygon points="225.6,1874.6 241.7,1890.7 225.6,1906.8 209.5,1890.7" fill="#FED892" stroke="#FED892" stroke-width="1.6" stroke-linejoin="round"/><polygon points="252.7,1883.8 268.8,1899.9 252.7,1916 236.6,1899.9" fill="#FED892" stroke="#FED892" stroke-width="1.6" stroke-linejoin="round"/><polygon points="307.4,1895 323.5,1911.1 307.4,1927.2 291.3,1911.1" fill="#FED892" stroke="#FED892" stroke-width="1.6" stroke-linejoin="round"/><polygon points="416.9,1982.5 433,1998.6 416.9,2014.7 400.8,1998.6" fill="#FED892" stroke="#FED892" stroke-width="1.6" stroke-linejoin="round"/><polygon points="526.3,2014 542.4,2030.1 526.3,2046.2 510.2,2030.1" fill="#FED892" stroke="#FED892" stroke-width="1.6" stroke-linejoin="round"/><polygon points="635.8,2046.6 651.9,2062.7 635.8,2078.8 619.7,2062.7" fill="#FED892" stroke="#FED892" stroke-width="1.6" stroke-linejoin="round"/><polygon points="745.2,2067.2 761.3,2083.3 745.2,2099.4 729.1,2083.3" fill="#FED892" stroke="#FED892" stroke-width="1.6" stroke-linejoin="round"/><polygon points="854.6,2054.3 870.7,2070.4 854.6,2086.5 838.5,2070.4" fill="#FED892" stroke="#FED892" stroke-width="1.6" stroke-linejoin="round"/><polygon points="964.1,2066.1 980.2,2082.2 964.1,2098.3 948,2082.2" fill="#FED892" stroke="#FED892" stroke-width="1.6" stroke-linejoin="round"/><polygon points="1128.2,2078.6 1144.3,2094.7 1128.2,2110.8 1112.1,2094.7" fill="#FED892" stroke="#FED892" stroke-width="1.6" stroke-linejoin="round"/><polygon points="1292.4,2076.1 1308.5,2092.2 1292.4,2108.3 1276.3,2092.2" fill="#FED892" stroke="#FED892" stroke-width="1.6" stroke-linejoin="round"/><polygon points="1456.6,2076.9 1472.7,2093 1456.6,2109.1 1440.5,2093" fill="#FED892" stroke="#FED892" stroke-width="1.6" stroke-linejoin="round"/></g>
<g fill="none" stroke="#D4ECB8"><path d="M214.7,2375.1 C225.6,2254.8 252.7,2244.5 307.4,2161.9" stroke-width="3.6"/><path d="M307.4,2161.9 C416.9,2089 526.3,2034.2 635.8,1986" stroke-width="3.52"/><path d="M635.8,1986 C745.2,1957.3 854.6,1961.7 964.1,1954.7" stroke-width="3.97"/><path d="M964.1,1954.7 C1128.2,1942.7 1292.4,1938.2 1456.6,1931.9" stroke-width="4"/></g>
<g><polygon points="232.8,2375.1 205.7,2391.2 205.7,2359" fill="#D4ECB8"/><polygon points="243.7,2254.8 216.6,2270.9 216.6,2238.7" fill="#D4ECB8"/><polygon points="270.8,2244.5 243.7,2260.6 243.7,2228.4" fill="#D4ECB8"/><polygon points="325.5,2161.9 298.4,2178 298.4,2145.8" fill="#D4ECB8"/><polygon points="435,2089 407.9,2105.1 407.9,2072.9" fill="#D4ECB8"/><polygon points="544.4,2034.2 517.3,2050.3 517.3,2018.1" fill="#D4ECB8"/><polygon points="653.9,1986 626.8,2002.1 626.8,1969.9" fill="#D4ECB8"/><polygon points="763.3,1957.3 736.2,1973.4 736.2,1941.2" fill="#D4ECB8"/><polygon points="872.7,1961.7 845.6,1977.8 845.6,1945.6" fill="#D4ECB8"/><polygon points="982.2,1954.7 955.1,1970.8 955.1,1938.6" fill="#D4ECB8"/><polygon points="1146.3,1942.7 1119.2,1958.8 1119.2,1926.6" fill="#D4ECB8"/><polygon points="1310.5,1938.2 1283.4,1954.3 1283.4,1922.1" fill="#D4ECB8"/><polygon points="1474.7,1931.9 1447.6,1948 1447.6,1915.8" fill="#D4ECB8"/></g>
<g fill="none" stroke="#8CCDAE" stroke-dasharray="14 17.7"><path d="M214.7,1757.1 C225.6,1800.5 252.7,1804.3 307.4,1851.6" stroke-width="3.24"/><path d="M307.4,1851.6 C416.9,1961.4 526.3,2040.2 635.8,2085.1" stroke-width="3.24"/><path d="M635.8,2085.1 C745.2,2092 854.6,2119.4 964.1,2118.6" stroke-width="3.98"/><path d="M964.1,2118.6 C1128.2,2111.4 1292.4,2115.6 1456.6,2119.4" stroke-width="4"/></g>
<g><polygon points="232.8,1757.1 205.7,1773.2 205.7,1741" fill="#8CCDAE"/><polygon points="243.7,1800.5 216.6,1816.6 216.6,1784.4" fill="#8CCDAE"/><polygon points="270.8,1804.3 243.7,1820.4 243.7,1788.2" fill="#8CCDAE"/><polygon points="325.5,1851.6 298.4,1867.7 298.4,1835.5" fill="#8CCDAE"/><polygon points="435,1961.4 407.9,1977.5 407.9,1945.3" fill="#8CCDAE"/><polygon points="544.4,2040.2 517.3,2056.3 517.3,2024.1" fill="#8CCDAE"/><polygon points="653.9,2085.1 626.8,2101.2 626.8,2069" fill="#8CCDAE"/><polygon points="763.3,2092 736.2,2108.1 736.2,2075.9" fill="#8CCDAE"/><polygon points="872.7,2119.4 845.6,2135.5 845.6,2103.3" fill="#8CCDAE"/><polygon points="982.2,2118.6 955.1,2134.7 955.1,2102.5" fill="#8CCDAE"/><polygon points="1146.3,2111.4 1119.2,2127.5 1119.2,2095.3" fill="#8CCDAE"/><polygon points="1310.5,2115.6 1283.4,2131.7 1283.4,2099.5" fill="#8CCDAE"/><polygon points="1474.7,2119.4 1447.6,2135.5 1447.6,2103.3" fill="#8CCDAE"/></g>
<g fill="none" stroke="#55AFA8"><path d="M214.7,2547.5 C225.6,2443.4 252.7,2375.2 307.4,2246" stroke-width="3.81"/><path d="M307.4,2246 C416.9,2105.9 526.3,2046.7 635.8,1972.6" stroke-width="3.15"/><path d="M635.8,1972.6 C745.2,1934.4 854.6,1923.1 964.1,1907.3" stroke-width="3.92"/><path d="M964.1,1907.3 C1128.2,1889.2 1292.4,1886.7 1456.6,1886.7" stroke-width="3.99"/></g>
<g><polygon points="214.7,2532.5 227.7,2540 227.7,2555 214.7,2562.5 201.7,2555 201.7,2540" fill="#55AFA8"/><polygon points="225.6,2428.4 238.6,2435.9 238.6,2450.9 225.6,2458.4 212.6,2450.9 212.6,2435.9" fill="#55AFA8"/><polygon points="252.7,2360.2 265.7,2367.7 265.7,2382.7 252.7,2390.2 239.7,2382.7 239.7,2367.7" fill="#55AFA8"/><polygon points="307.4,2231 320.4,2238.5 320.4,2253.5 307.4,2261 294.4,2253.5 294.4,2238.5" fill="#55AFA8"/><polygon points="416.9,2090.9 429.9,2098.4 429.9,2113.4 416.9,2120.9 403.9,2113.4 403.9,2098.4" fill="#55AFA8"/><polygon points="526.3,2031.7 539.3,2039.2 539.3,2054.2 526.3,2061.7 513.3,2054.2 513.3,2039.2" fill="#55AFA8"/><polygon points="635.8,1957.6 648.8,1965.1 648.8,1980.1 635.8,1987.6 622.8,1980.1 622.8,1965.1" fill="#55AFA8"/><polygon points="745.2,1919.4 758.2,1926.9 758.2,1941.9 745.2,1949.4 732.2,1941.9 732.2,1926.9" fill="#55AFA8"/><polygon points="854.6,1908.1 867.6,1915.6 867.6,1930.6 854.6,1938.1 841.6,1930.6 841.6,1915.6" fill="#55AFA8"/><polygon points="964.1,1892.3 977.1,1899.8 977.1,1914.8 964.1,1922.3 951.1,1914.8 951.1,1899.8" fill="#55AFA8"/><polygon points="1128.2,1874.2 1141.2,1881.7 1141.2,1896.7 1128.2,1904.2 1115.2,1896.7 1115.2,1881.7" fill="#55AFA8"/><polygon points="1292.4,1871.7 1305.4,1879.2 1305.4,1894.2 1292.4,1901.7 1279.4,1894.2 1279.4,1879.2" fill="#55AFA8"/><polygon points="1456.6,1871.7 1469.6,1879.2 1469.6,1894.2 1456.6,1901.7 1443.6,1894.2 1443.6,1879.2" fill="#55AFA8"/></g>
<g fill="none" stroke="#377BB5" stroke-dasharray="14 17.7"><path d="M214.7,1601 C225.6,1664.2 252.7,1596.2 307.4,1712.8" stroke-width="3.45"/><path d="M307.4,1712.8 C416.9,1883.8 526.3,2056 635.8,2095" stroke-width="3.24"/><path d="M635.8,2095 C745.2,2127.4 854.6,2156.1 964.1,2163.2" stroke-width="3.91"/><path d="M964.1,2163.2 C1128.2,2170.4 1292.4,2159.1 1456.6,2162.4" stroke-width="4"/></g>
<g><polygon points="214.7,1586 227.7,1593.5 227.7,1608.5 214.7,1616 201.7,1608.5 201.7,1593.5" fill="#377BB5"/><polygon points="225.6,1649.2 238.6,1656.7 238.6,1671.7 225.6,1679.2 212.6,1671.7 212.6,1656.7" fill="#377BB5"/><polygon points="252.7,1581.2 265.7,1588.7 265.7,1603.7 252.7,1611.2 239.7,1603.7 239.7,1588.7" fill="#377BB5"/><polygon points="307.4,1697.8 320.4,1705.3 320.4,1720.3 307.4,1727.8 294.4,1720.3 294.4,1705.3" fill="#377BB5"/><polygon points="416.9,1868.8 429.9,1876.3 429.9,1891.3 416.9,1898.8 403.9,1891.3 403.9,1876.3" fill="#377BB5"/><polygon points="526.3,2041 539.3,2048.5 539.3,2063.5 526.3,2071 513.3,2063.5 513.3,2048.5" fill="#377BB5"/><polygon points="635.8,2080 648.8,2087.5 648.8,2102.5 635.8,2110 622.8,2102.5 622.8,2087.5" fill="#377BB5"/><polygon points="745.2,2112.4 758.2,2119.9 758.2,2134.9 745.2,2142.4 732.2,2134.9 732.2,2119.9" fill="#377BB5"/><polygon points="854.6,2141.1 867.6,2148.6 867.6,2163.6 854.6,2171.1 841.6,2163.6 841.6,2148.6" fill="#377BB5"/><polygon points="964.1,2148.2 977.1,2155.7 977.1,2170.7 964.1,2178.2 951.1,2170.7 951.1,2155.7" fill="#377BB5"/><polygon points="1128.2,2155.4 1141.2,2162.9 1141.2,2177.9 1128.2,2185.4 1115.2,2177.9 1115.2,2162.9" fill="#377BB5"/><polygon points="1292.4,2144.1 1305.4,2151.6 1305.4,2166.6 1292.4,2174.1 1279.4,2166.6 1279.4,2151.6" fill="#377BB5"/><polygon points="1456.6,2147.4 1469.6,2154.9 1469.6,2169.9 1456.6,2177.4 1443.6,2169.9 1443.6,2154.9" fill="#377BB5"/></g>
</g>
<g stroke="#000" stroke-width="4" fill="none" shape-rendering="crispEdges"><line x1="335" y1="2622" x2="335" y2="2613"/><line x1="335" y1="1475" x2="335" y2="1484"/><line x1="472" y1="2622" x2="472" y2="2605"/><line x1="472" y1="1475" x2="472" y2="1492"/><line x1="608" y1="2622" x2="608" y2="2613"/><line x1="608" y1="1475" x2="608" y2="1484"/><line x1="745" y1="2622" x2="745" y2="2605"/><line x1="745" y1="1475" x2="745" y2="1492"/><line x1="882" y1="2622" x2="882" y2="2613"/><line x1="882" y1="1475" x2="882" y2="1484"/><line x1="1019" y1="2622" x2="1019" y2="2605"/><line x1="1019" y1="1475" x2="1019" y2="1492"/><line x1="1156" y1="2622" x2="1156" y2="2613"/><line x1="1156" y1="1475" x2="1156" y2="1484"/><line x1="1292" y1="2622" x2="1292" y2="2605"/><line x1="1292" y1="1475" x2="1292" y2="1492"/><line x1="1429" y1="2622" x2="1429" y2="2613"/><line x1="1429" y1="1475" x2="1429" y2="1484"/><line x1="198" y1="2551" x2="215" y2="2551"/><line x1="1566" y1="2551" x2="1549" y2="2551"/><line x1="198" y1="2371" x2="215" y2="2371"/><line x1="1566" y1="2371" x2="1549" y2="2371"/><line x1="198" y1="2192" x2="215" y2="2192"/><line x1="1566" y1="2192" x2="1549" y2="2192"/><line x1="198" y1="2013" x2="215" y2="2013"/><line x1="1566" y1="2013" x2="1549" y2="2013"/><line x1="198" y1="1833" x2="215" y2="1833"/><line x1="1566" y1="1833" x2="1549" y2="1833"/><line x1="198" y1="1654" x2="215" y2="1654"/><line x1="1566" y1="1654" x2="1549" y2="1654"/><line x1="198" y1="2461" x2="207" y2="2461"/><line x1="1566" y1="2461" x2="1557" y2="2461"/><line x1="198" y1="2282" x2="207" y2="2282"/><line x1="1566" y1="2282" x2="1557" y2="2282"/><line x1="198" y1="2102" x2="207" y2="2102"/><line x1="1566" y1="2102" x2="1557" y2="2102"/><line x1="198" y1="1923" x2="207" y2="1923"/><line x1="1566" y1="1923" x2="1557" y2="1923"/><line x1="198" y1="1744" x2="207" y2="1744"/><line x1="1566" y1="1744" x2="1557" y2="1744"/><line x1="198" y1="1564" x2="207" y2="1564"/><line x1="1566" y1="1564" x2="1557" y2="1564"/><rect x="198" y="1475" width="1368" height="1147"/></g>
<g font-size="54" fill="#000"><text transform="translate(197.5,2681.2) scale(0.965,1)" text-anchor="middle">0.0</text><text transform="translate(471.1,2681.2) scale(0.965,1)" text-anchor="middle">0.5</text><text transform="translate(744.7,2681.2) scale(0.965,1)" text-anchor="middle">1.0</text><text transform="translate(1018.3,2681.2) scale(0.965,1)" text-anchor="middle">1.5</text><text transform="translate(1291.9,2681.2) scale(0.965,1)" text-anchor="middle">2.0</text><text transform="translate(1565.5,2681.2) scale(0.965,1)" text-anchor="middle">2.5</text><text transform="translate(179.8,2567) scale(0.965,1)" text-anchor="end">−15</text><text transform="translate(179.8,2387) scale(0.965,1)" text-anchor="end">−10</text><text transform="translate(179.8,2208) scale(0.965,1)" text-anchor="end">−5</text><text transform="translate(179.8,2029) scale(0.965,1)" text-anchor="end">0</text><text transform="translate(179.8,1849) scale(0.965,1)" text-anchor="end">5</text><text transform="translate(179.8,1670) scale(0.965,1)" text-anchor="end">10</text><text transform="translate(179.8,1491) scale(0.965,1)" text-anchor="end">15</text></g>
<g font-size="75"><text transform="translate(814.5,2750) scale(1.075,1)" font-size="86" font-style="italic">H</text><text x="876.9" y="2750">/m</text></g>
<g transform="translate(113.8,2140) rotate(-90)" font-size="78"><text x="5" y="0" font-weight="bold" font-style="italic">N</text><text x="61" y="0">/N·m</text></g>
<rect x="1571.5" y="1472.5" width="372" height="721" fill="#fff" stroke="#000" stroke-width="1" shape-rendering="crispEdges"/>
<line x1="1578" y1="1513" x2="1709" y2="1513" stroke="#45001F" stroke-width="4"/>
<rect x="1631" y="1501.7" width="23.8" height="23.6" fill="#45001F"/>
<text transform="translate(1722.8,1532.8) scale(0.935,1)" font-size="61.5">0.2m/s-F</text>
<line x1="1578" y1="1584" x2="1709" y2="1584" stroke="#92003E" stroke-width="4" stroke-dasharray="14 17.7"/>
<rect x="1631" y="1572.7" width="23.8" height="23.6" fill="#92003E"/>
<text transform="translate(1722.8,1603.8) scale(0.935,1)" font-size="61.5">0.2m/s-B</text>
<line x1="1578" y1="1655" x2="1709" y2="1655" stroke="#C8304A" stroke-width="4"/>
<polygon points="1643,1636.9 1659,1664.9 1627,1664.9" fill="#C8304A"/>
<text transform="translate(1722.8,1674.8) scale(0.935,1)" font-size="61.5">0.4m/s-F</text>
<line x1="1578" y1="1726" x2="1709" y2="1726" stroke="#EA6044" stroke-width="4" stroke-dasharray="14 17.7"/>
<polygon points="1643,1707.9 1659,1735.9 1627,1735.9" fill="#EA6044"/>
<text transform="translate(1722.8,1745.8) scale(0.935,1)" font-size="61.5">0.4m/s-B</text>
<line x1="1578" y1="1797" x2="1709" y2="1797" stroke="#F89552" stroke-width="4"/>
<polygon points="1643,1781.4 1659.1,1797.5 1643,1813.6 1626.9,1797.5" fill="#F89552" stroke="#F89552" stroke-width="1.6" stroke-linejoin="round"/>
<text transform="translate(1722.8,1816.8) scale(0.935,1)" font-size="61.5">0.6m/s-F</text>
<line x1="1578" y1="1869" x2="1709" y2="1869" stroke="#FED892" stroke-width="4" stroke-dasharray="14 17.7"/>
<polygon points="1643,1853.4 1659.1,1869.5 1643,1885.6 1626.9,1869.5" fill="#FED892" stroke="#FED892" stroke-width="1.6" stroke-linejoin="round"/>
<text transform="translate(1722.8,1888.8) scale(0.935,1)" font-size="61.5">0.6m/s-B</text>
<line x1="1578" y1="1940" x2="1709" y2="1940" stroke="#D4ECB8" stroke-width="4"/>
<polygon points="1661.1,1940 1634,1956.1 1634,1923.9" fill="#D4ECB8"/>
<text transform="translate(1722.8,1959.8) scale(0.935,1)" font-size="61.5">0.8m/s-F</text>
<line x1="1578" y1="2011" x2="1709" y2="2011" stroke="#8CCDAE" stroke-width="4" stroke-dasharray="14 17.7"/>
<polygon points="1661.1,2011 1634,2027.1 1634,1994.9" fill="#8CCDAE"/>
<text transform="translate(1722.8,2030.8) scale(0.935,1)" font-size="61.5">0.8m/s-B</text>
<line x1="1578" y1="2082" x2="1709" y2="2082" stroke="#55AFA8" stroke-width="4"/>
<polygon points="1643,2067 1656,2074.5 1656,2089.5 1643,2097 1630,2089.5 1630,2074.5" fill="#55AFA8"/>
<text transform="translate(1722.8,2101.8) scale(0.935,1)" font-size="61.5">1.0m/s-F</text>
<line x1="1578" y1="2154" x2="1709" y2="2154" stroke="#377BB5" stroke-width="4" stroke-dasharray="14 17.7"/>
<polygon points="1643,2139 1656,2146.5 1656,2161.5 1643,2169 1630,2161.5 1630,2146.5" fill="#377BB5"/>
<text transform="translate(1722.8,2173.8) scale(0.935,1)" font-size="61.5">1.0m/s-B</text>
</g>
<text x="954.6" y="2833.6" font-size="76">(<tspan font-weight="bold" font-size="77" dx="1.5">b</tspan><tspan dx="3.5">)</tspan></text>
</svg>
</body>
</html>
